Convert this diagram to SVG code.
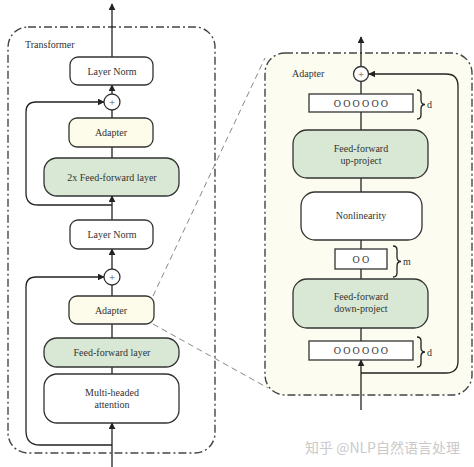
<svg xmlns="http://www.w3.org/2000/svg" width="474" height="467" viewBox="0 0 474 467">
<defs>
<marker id="ah" viewBox="0 0 10 10" refX="9" refY="5" markerWidth="7" markerHeight="7" markerUnits="userSpaceOnUse" orient="auto">
<path d="M0,0 L10,5 L0,10 Z" fill="#222"/>
</marker>
</defs>
<style>
text{font-family:"Liberation Serif","Times New Roman",serif;fill:#333;font-size:10px}
.n{fill:#fff;stroke:#333;stroke-width:1.3}
.g{fill:#d8e8d4;stroke:#333;stroke-width:1.3}
.y{fill:#fdfbe9;stroke:#333;stroke-width:1.3}
.c{fill:none;stroke:#222;stroke-width:1.3}
.panel{stroke:#444;stroke-width:1.4;stroke-dasharray:8 3 2 3}
.zoom{fill:none;stroke:#888;stroke-width:1;stroke-dasharray:6 4}
.m{text-anchor:middle}
.o{font-size:10px;letter-spacing:2.2px;text-anchor:middle}
.p{font-size:11px;text-anchor:middle;fill:#555}
</style>
<rect width="474" height="467" fill="#fff"/>

<g id="transformer-panel">
<rect class="panel" x="8" y="27" width="207" height="426" rx="20" fill="#fff"/>
<text x="25" y="48">Transformer</text>
</g>

<g id="adapter-panel">
<rect class="panel" x="265" y="53" width="207" height="342" rx="20" fill="#fdfcf0"/>
<text x="292" y="77">Adapter</text>
</g>

<g id="zoom-lines">
<line class="zoom" x1="153" y1="296" x2="265" y2="58"/>
<line class="zoom" x1="153" y1="324" x2="268" y2="388"/>
</g>

<g id="connectors">
<line class="c" x1="112" y1="57" x2="112" y2="4" marker-end="url(#ah)"/>
<line class="c" x1="112" y1="94" x2="112" y2="85" marker-end="url(#ah)"/>
<line class="c" x1="112" y1="118" x2="112" y2="110"/>
<line class="c" x1="112" y1="158" x2="112" y2="147"/>
<line class="c" x1="112" y1="220" x2="112" y2="196" marker-end="url(#ah)"/>
<path class="c" d="M112,205 H38 Q26,205 26,193 V112 Q26,102 36,102 H104" marker-end="url(#ah)"/>
<line class="c" x1="112" y1="269" x2="112" y2="249" marker-end="url(#ah)"/>
<line class="c" x1="112" y1="296" x2="112" y2="285"/>
<line class="c" x1="112" y1="338" x2="112" y2="324"/>
<line class="c" x1="112" y1="374" x2="112" y2="367"/>
<line class="c" x1="112" y1="467" x2="112" y2="423" marker-end="url(#ah)"/>
<path class="c" d="M112,445 H40 Q26,445 26,431 V287 Q26,277 36,277 H104" marker-end="url(#ah)"/>

<line class="c" x1="361" y1="66" x2="361" y2="37" marker-end="url(#ah)"/>
<line class="c" x1="361" y1="94" x2="361" y2="82"/>
<line class="c" x1="361" y1="130" x2="361" y2="112"/>
<line class="c" x1="361" y1="192" x2="361" y2="178"/>
<line class="c" x1="361" y1="249" x2="361" y2="240"/>
<line class="c" x1="361" y1="279" x2="361" y2="269"/>
<line class="c" x1="361" y1="341" x2="361" y2="328"/>
<line class="c" x1="361" y1="410" x2="361" y2="360" marker-end="url(#ah)"/>
<path class="c" d="M361,373 H446 Q458,373 458,361 V86 Q458,74 446,74 H369" marker-end="url(#ah)"/>
</g>

<g id="layer-norm-top">
<rect class="n" x="70" y="57" width="83" height="28" rx="8"/>
<text class="m" x="112" y="75">Layer Norm</text>
</g>
<g id="add-top">
<circle class="n" cx="112" cy="102" r="8"/>
<text class="p" x="112" y="106">+</text>
</g>
<g id="adapter-top">
<rect class="y" x="69" y="118" width="84" height="29" rx="8"/>
<text class="m" x="111" y="136">Adapter</text>
</g>
<g id="ff2x">
<rect class="g" x="44" y="158" width="135" height="38" rx="13"/>
<text class="m" x="112" y="181">2x Feed-forward layer</text>
</g>
<g id="layer-norm-bottom">
<rect class="n" x="70" y="220" width="83" height="29" rx="8"/>
<text class="m" x="112" y="238">Layer Norm</text>
</g>
<g id="add-bottom">
<circle class="n" cx="112" cy="277" r="8"/>
<text class="p" x="112" y="281">+</text>
</g>
<g id="adapter-bottom">
<rect class="y" x="69" y="296" width="85" height="28" rx="8"/>
<text class="m" x="111" y="313.5">Adapter</text>
</g>
<g id="ff">
<rect class="g" x="44" y="338" width="135" height="29" rx="13"/>
<text class="m" x="112" y="356">Feed-forward layer</text>
</g>
<g id="mha">
<rect class="n" x="44" y="374" width="135" height="49" rx="13"/>
<text class="m" x="112" y="396">Multi-headed</text>
<text class="m" x="112" y="408">attention</text>
</g>

<g id="add-adapter">
<circle class="n" cx="361" cy="74" r="7.5"/>
<text class="p" x="361" y="78">+</text>
</g>
<g id="vec-d-top">
<rect class="n" x="309" y="94" width="104" height="18"/>
<text class="o" x="362" y="106.5">OOOOOO</text>
<path class="c" d="M417,90 Q421,90 421,94 V100 Q421,104.5 425,104.5 Q421,104.5 421,109 V115 Q421,119 417,119"/>
<text x="427" y="108">d</text>
</g>
<g id="ff-up">
<rect class="g" x="293" y="130" width="135" height="48" rx="14"/>
<text class="m" x="361" y="152">Feed-forward</text>
<text class="m" x="361" y="164">up-project</text>
</g>
<g id="nonlinearity">
<rect class="n" x="301" y="192" width="121" height="48" rx="14"/>
<text class="m" x="361" y="219">Nonlinearity</text>
</g>
<g id="vec-m">
<rect class="n" x="335" y="249" width="52" height="20"/>
<text class="o" x="362" y="262.5">OO</text>
<path class="c" d="M393,246 Q397,246 397,250 V257 Q397,261.5 401,261.5 Q397,261.5 397,266 V273 Q397,277 393,277"/>
<text x="403" y="265">m</text>
</g>
<g id="ff-down">
<rect class="g" x="293" y="279" width="135" height="49" rx="14"/>
<text class="m" x="361" y="300">Feed-forward</text>
<text class="m" x="361" y="312">down-project</text>
</g>
<g id="vec-d-bottom">
<rect class="n" x="309" y="341" width="104" height="19"/>
<text class="o" x="362" y="354">OOOOOO</text>
<path class="c" d="M417,337 Q421,337 421,341 V347.5 Q421,352 425,352 Q421,352 421,356.5 V363 Q421,367 417,367"/>
<text x="427" y="356">d</text>
</g>

<text x="305" y="453" style="font-family:'Noto Sans CJK SC','Noto Sans',sans-serif;font-size:14px;fill:#cacaca">知乎 @NLP自然语言处理</text>
</svg>
